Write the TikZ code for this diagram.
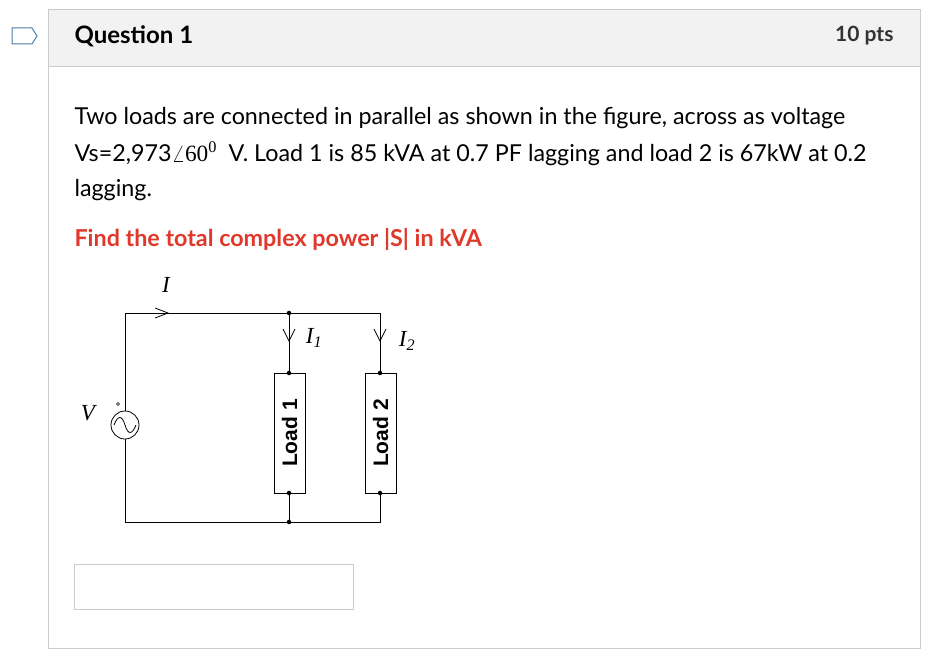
\documentclass[tikz,border=0pt]{standalone}
\usepackage{fontspec}
\setmainfont{Lato}
\newfontfamily\tms{Liberation Serif}
\newfontfamily\arl{Liberation Sans}
\definecolor{hdr}{HTML}{F2F2F2}
\definecolor{bord}{HTML}{C7CDD1}
\definecolor{redq}{HTML}{E0392B}
\definecolor{icon}{HTML}{4A7DA8}
\tikzset{wire/.style={line width=1pt},dot/.style={circle,fill,inner sep=1.6pt},
 body/.style={anchor=west,font=\fontsize{23.3}{26}\selectfont},
 lbl/.style={font=\tms\itshape\fontsize{23}{26}\selectfont}}
\begin{document}
\begin{tikzpicture}[x=1pt,y=-1pt]
\useasboundingbox (0,0) rectangle (928,652);
\fill[white] (0,0) rectangle (928,652);
\draw[bord,fill=hdr] (48,9) rectangle (920,66);
\draw[bord] (48,66) rectangle (920,648);
\draw[icon,line width=1pt] (12,28) -- (32,28) -- (37,36) -- (32,44) -- (12,44) -- cycle;
\node[anchor=west,font=\bfseries\fontsize{24}{26}\selectfont] (q) at (71,36) {Question 1};
\node[anchor=east,font=\bfseries\fontsize{21}{24}\selectfont,text=black!80] (p) at (897,36) {10 pts};
\node[body] (l1) at (71,118) {Two loads are connected in parallel as shown in the figure, across as voltage};
\node[body] (l2) at (71,154) {Vs=2,973{\tms$\angle$60\textsuperscript{0}}\enspace V. Load 1 is 85 kVA at 0.7 PF lagging and load 2 is 67kW at 0.2};
\node[body] (l3) at (71,190) {lagging.};
\node[body,text=redq,font=\bfseries\fontsize{23.3}{26}\selectfont] (red) at (71,239) {Find the total complex power |S| in kVA};
% circuit
\coordinate (tl) at (125,313); \coordinate (bl) at (125,522);
\node[dot] (t1) at (289,313) {}; \coordinate (t2) at (380,313);
\node[dot] (b1) at (289,522) {}; \coordinate (b2) at (380,522);
\node[draw,line width=1pt,minimum width=31pt,minimum height=120pt,inner sep=0] (L1) at (289.5,433) {};
\node[draw,line width=1pt,minimum width=31pt,minimum height=120pt,inner sep=0] (L2) at (380.5,433) {};
\node[rotate=90,font=\arl\bfseries\fontsize{21}{22}\selectfont] at (L1) {Load 1};
\node[rotate=90,font=\arl\bfseries\fontsize{21}{22}\selectfont] at (L2) {Load 2};
\node[dot] (a1) at (289,373) {}; \node[dot] (c1) at (289,493) {};
\node[dot] (a2) at (380,373) {}; \node[dot] (c2) at (380,493) {};
\node[draw,circle,line width=0.8pt,minimum size=28pt,inner sep=0] (src) at (125,425) {};
\draw[line width=0.8pt] (114,425) .. controls (118,415) and (122,415) .. (125,425) .. controls (128,435) and (132,435) .. (136,425);
\draw[line width=0.6pt] (118,404) circle (1.5);
\draw[wire] (src.north) -- (tl) -- (t1) -- (t2) -- (a2);
\draw[wire] (t1) -- (a1);
\draw[wire] (src.south) -- (bl) -- (b1) -- (b2) -- (c2);
\draw[wire] (b1) -- (c1);
\draw[line width=0.8pt] (155,308) -- (168,313) -- (155,318);
\draw[line width=0.8pt] (283,329) -- (289,341) -- (295,329);
\draw[line width=0.8pt] (374,329) -- (380,341) -- (386,329);
\node[lbl] (I) at (166,285) {I};
\node[lbl] (V) at (88,413) {V};
\node[lbl] (I1) at (314,338) {I\textsubscript{\itshape 1}};
\node[lbl] (I2) at (407,341) {I\textsubscript{\itshape 2}};
\draw[bord,line width=1pt] (74,564) rectangle (353,609);
\end{tikzpicture}
\end{document}
